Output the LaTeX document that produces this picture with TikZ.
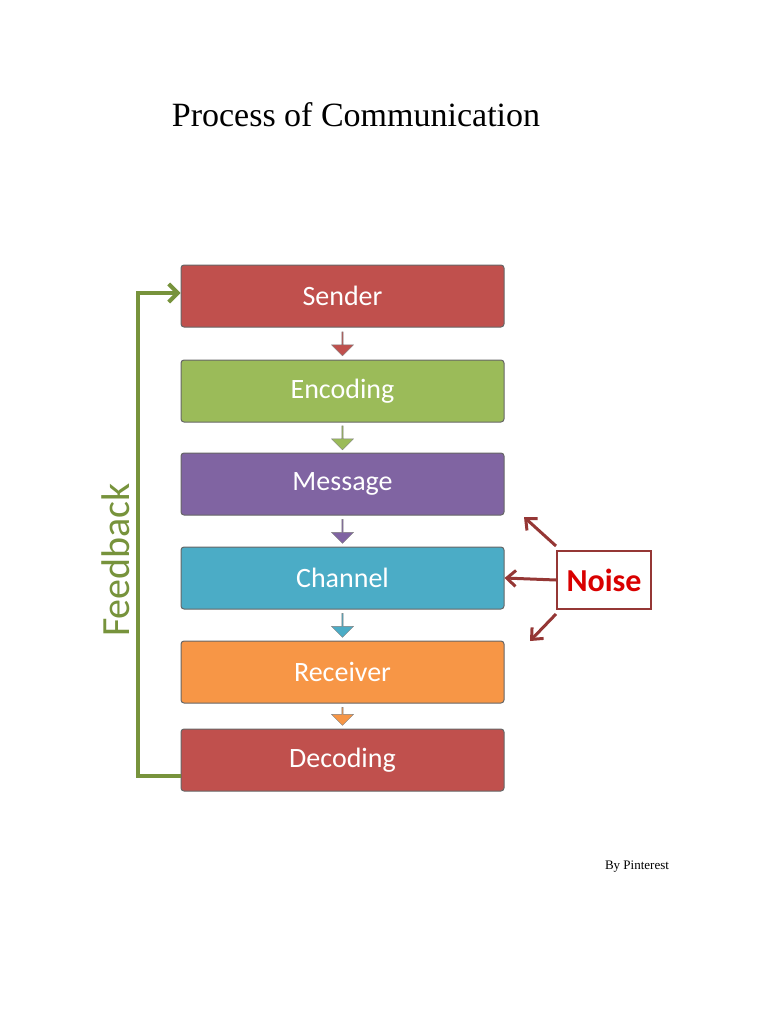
\documentclass[tikz,border=0pt]{standalone}
\usepackage{fontspec}
\setmainfont{Liberation Serif}
\newfontfamily\calfont{Carlito}
\usetikzlibrary{shapes.arrows,arrows.meta}
\definecolor{cred}{HTML}{C0504D}
\definecolor{cgreen}{HTML}{9BBB59}
\definecolor{cpurple}{HTML}{8064A2}
\definecolor{ccyan}{HTML}{4BACC6}
\definecolor{corange}{HTML}{F79646}
\definecolor{fbgreen}{HTML}{77933C}
\definecolor{noisered}{HTML}{953735}
\begin{document}
\begin{tikzpicture}[x=1pt,y=-1pt,
  stepbox/.style={draw=black!60,line width=1pt,rounded corners=3pt,minimum width=323pt,minimum height=62pt,text=white,font=\calfont\fontsize{28}{30}\selectfont,inner sep=0pt},
  smallarrow/.style={single arrow,shape border rotate=270,draw=black!50,minimum width=22pt,single arrow head extend=3pt,minimum height=24pt,inner sep=0pt},
  noisearrow/.style={draw=noisered,line width=3pt,-{Straight Barb[length=9pt,width=16pt]}}]
\useasboundingbox (0,0) rectangle (768,1024);
\node[font=\fontsize{34}{36}\selectfont] (title) at (356,115) {Process of Communication};
\node[stepbox,fill=cred] (s) at (342.5,296) {Sender};
\node[stepbox,fill=cgreen] (e) at (342.5,391) {Encoding};
\node[stepbox,fill=cpurple] (m) at (342.5,484) {Message};
\node[stepbox,fill=ccyan] (c) at (342.5,578) {Channel};
\node[stepbox,fill=corange] (r) at (342.5,672) {Receiver};
\node[stepbox,fill=cred] (d) at (342.5,760) {Decoding};
\node[smallarrow,fill=cred] (a1) at (342.5,343.5) {};
\node[smallarrow,fill=cgreen] (a2) at (342.5,437.5) {};
\node[smallarrow,fill=cpurple] (a3) at (342.5,531) {};
\node[smallarrow,fill=ccyan] (a4) at (342.5,625) {};
\node[smallarrow,fill=corange,minimum height=18pt] (a5) at (342.5,716) {};
\coordinate (fb1) at (138,776);
\coordinate (fb2) at (138,293);
\draw[fbgreen,line width=4pt,-{Straight Barb[length=9pt,width=18pt]}] (d.west|-fb1) -- (fb1) -- (fb2) -- (s.west|-fb2);
\node[rotate=90,text=fbgreen,font=\calfont\fontsize{40}{42}\selectfont] (fb) at (116,560) {Feedback};
\node[draw=noisered,line width=2pt,minimum width=94pt,minimum height=58pt,text=red!85!black,font=\calfont\bfseries\fontsize{32}{34}\selectfont,inner sep=0pt] (n) at (604,580) {Noise};
\draw[noisearrow] (n.west) -- (c.east);
\coordinate (t1) at (524,517);
\coordinate (t2) at (530,641);
\draw[noisearrow] ([yshift=4pt]n.north west) -- (t1);
\draw[noisearrow] ([yshift=-4pt]n.south west) -- (t2);
\node[font=\fontsize{13}{14}\selectfont] (by) at (637,867) {By Pinterest};
\end{tikzpicture}
\end{document}
